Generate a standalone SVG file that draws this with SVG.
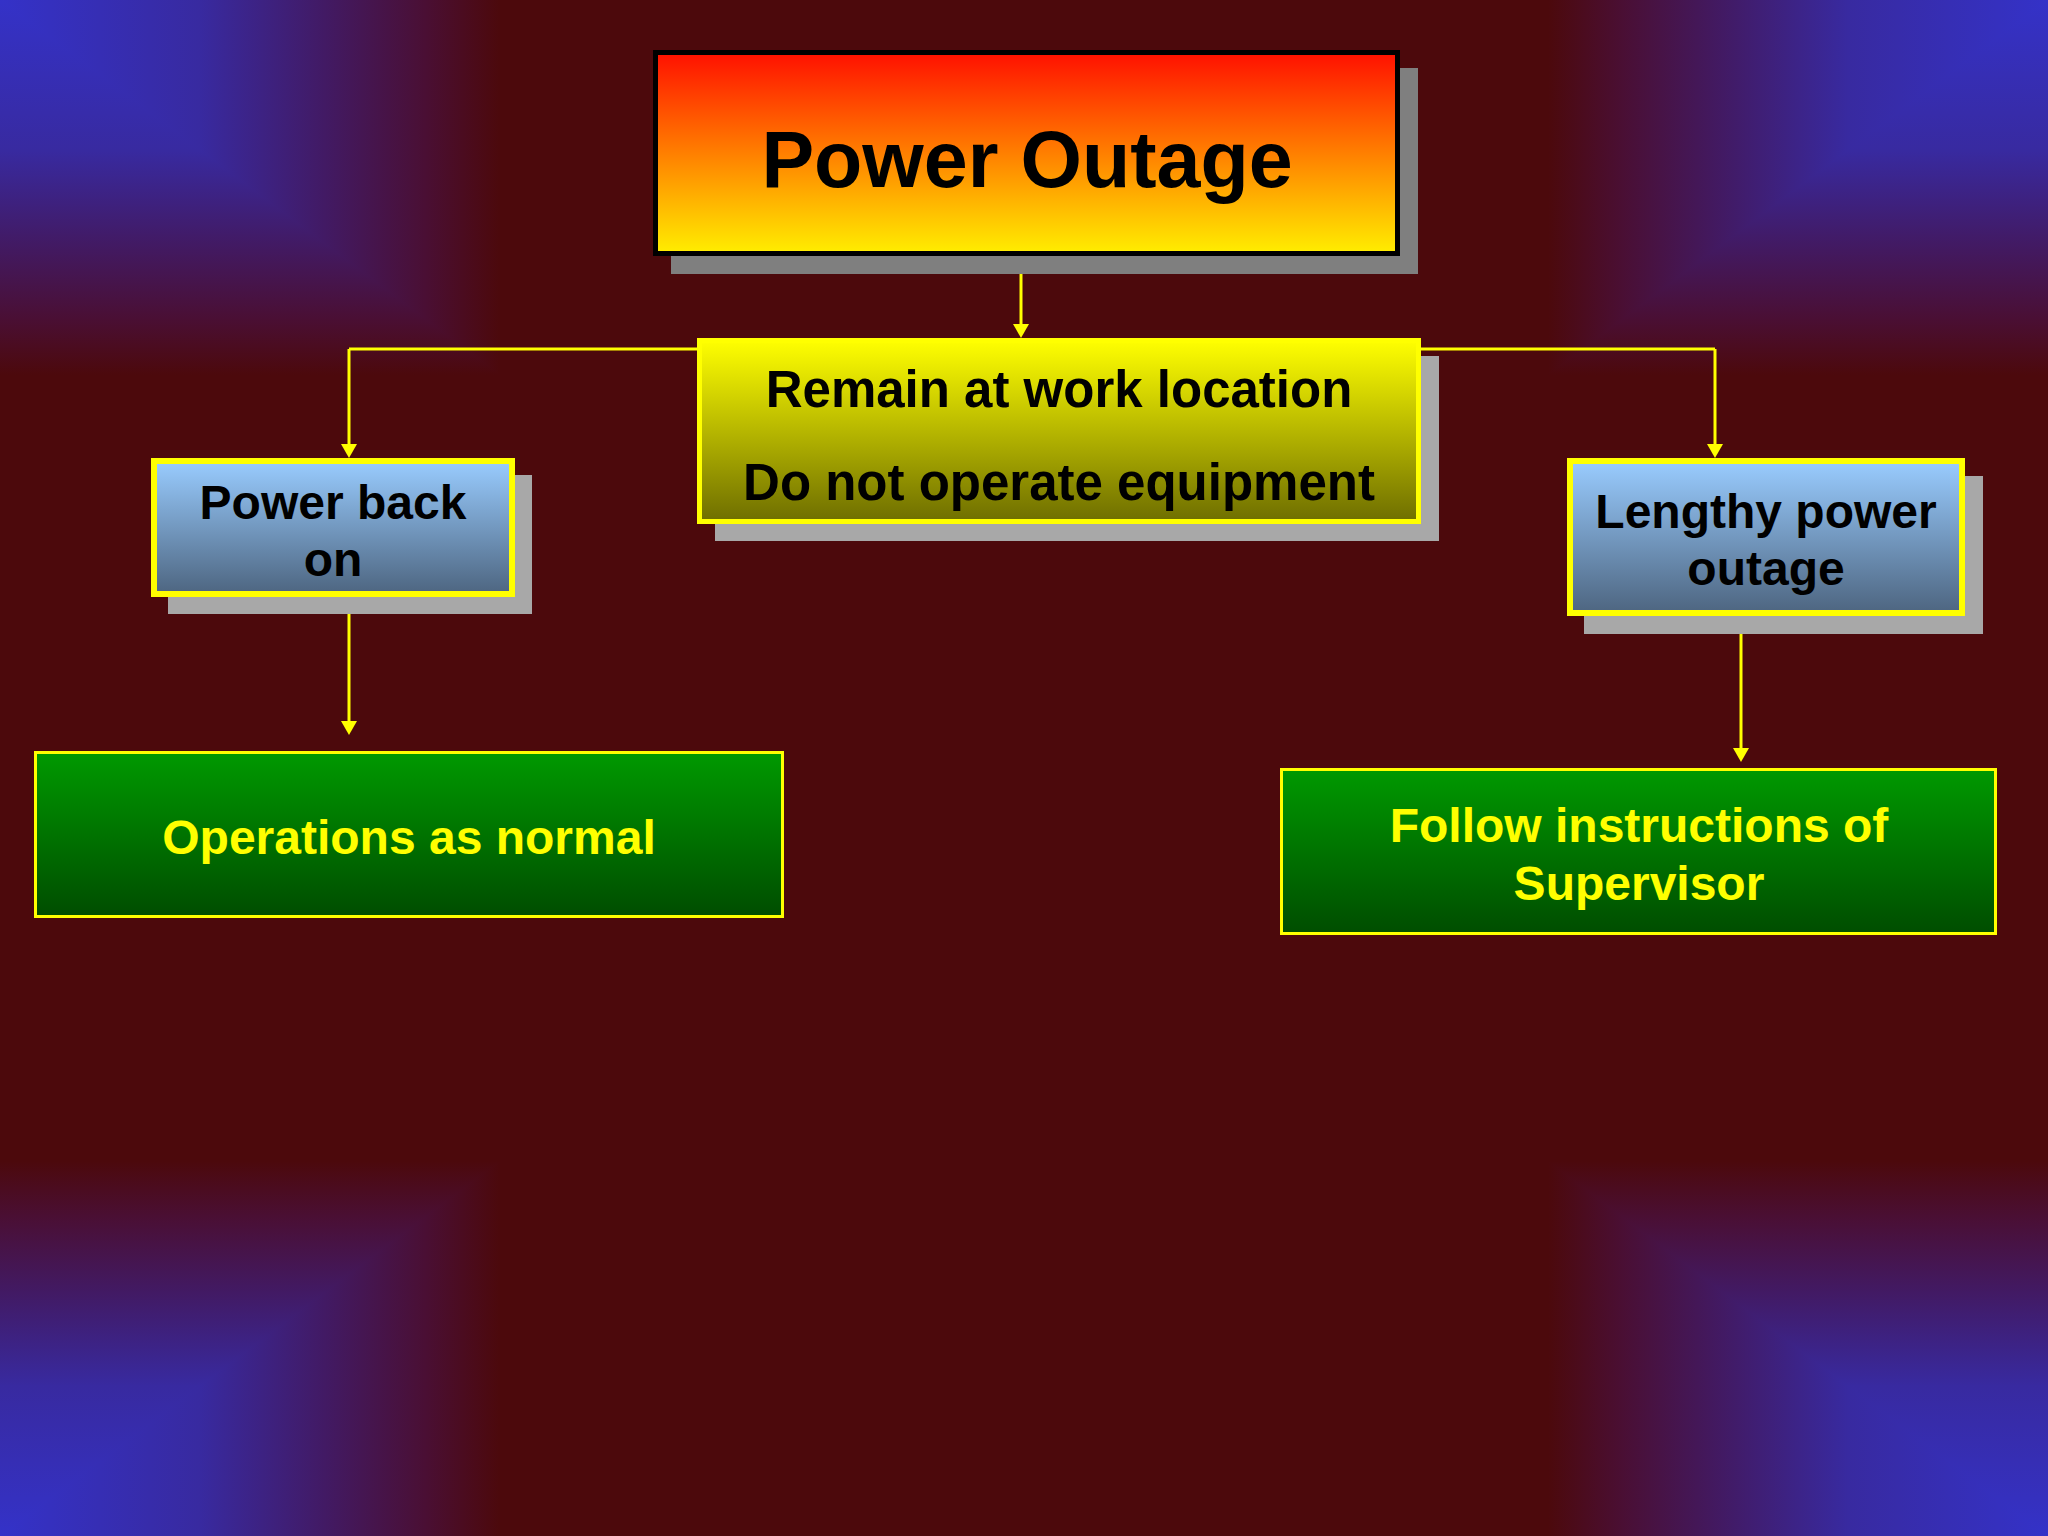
<svg xmlns="http://www.w3.org/2000/svg" xmlns:xlink="http://www.w3.org/1999/xlink" width="2048" height="1536" viewBox="0 0 2048 1536">
<style>
.t{font-family:"Liberation Sans",Arial,sans-serif;font-weight:bold;text-anchor:middle}
.blk{fill:#000}
.yel{fill:#ffff00}
.conn{fill:none;stroke:#ffff00;stroke-width:3}
.shadowDark{fill:#7f7f7f}
.shadowLight{fill:#a8a8a8}
</style>
<defs>
<linearGradient id="gh" x1="0" y1="0" x2="1" y2="0">
<stop offset="0" stop-color="#3432c8"/>
<stop offset="0.4" stop-color="#382aa0"/>
<stop offset="0.65" stop-color="#421a64"/>
<stop offset="0.85" stop-color="#4a0f34"/>
<stop offset="1" stop-color="#4c090c"/>
</linearGradient>
<linearGradient id="gv" x1="0" y1="0" x2="0" y2="1">
<stop offset="0" stop-color="#3432c8"/>
<stop offset="0.4" stop-color="#382aa0"/>
<stop offset="0.65" stop-color="#421a64"/>
<stop offset="0.85" stop-color="#4a0f34"/>
<stop offset="1" stop-color="#4c090c"/>
</linearGradient>
<g id="corner">
<rect x="0" y="0" width="500" height="375" fill="url(#gv)"/>
<polygon points="0,0 500,0 500,375" fill="url(#gh)"/>
</g>
<linearGradient id="gRed" x1="0" y1="0" x2="0" y2="1">
<stop offset="0" stop-color="#ff1000"/>
<stop offset="1" stop-color="#ffee00"/>
</linearGradient>
<linearGradient id="gYel" x1="0" y1="0" x2="0" y2="1">
<stop offset="0" stop-color="#ffff00"/>
<stop offset="1" stop-color="#6e6e00"/>
</linearGradient>
<linearGradient id="gBlue" x1="0" y1="0" x2="0" y2="1">
<stop offset="0" stop-color="#99ccff"/>
<stop offset="1" stop-color="#4d6580"/>
</linearGradient>
<linearGradient id="gGreen" x1="0" y1="0" x2="0" y2="1">
<stop offset="0" stop-color="#009900"/>
<stop offset="1" stop-color="#004d00"/>
</linearGradient>
<marker id="arr" viewBox="0 0 14 16" refX="4" refY="8" markerWidth="14" markerHeight="16" markerUnits="userSpaceOnUse" orient="auto">
<path d="M0,0 L14,8 L0,16 z" fill="#ffff00"/>
</marker>
</defs>

<g id="background">
<rect x="0" y="0" width="2048" height="1536" fill="#4c090c"/>
<use xlink:href="#corner"/>
<use xlink:href="#corner" transform="translate(2048,0) scale(-1,1)"/>
<use xlink:href="#corner" transform="translate(0,1536) scale(1,-1)"/>
<use xlink:href="#corner" transform="translate(2048,1536) scale(-1,-1)"/>
</g>

<g id="connectors">
<path class="conn" d="M1021 256 V328" marker-end="url(#arr)"/>
<path class="conn" d="M349 349 H1715"/>
<path class="conn" d="M349 349 V448" marker-end="url(#arr)"/>
<path class="conn" d="M1715 349 V448" marker-end="url(#arr)"/>
<path class="conn" d="M349 596 V725" marker-end="url(#arr)"/>
<path class="conn" d="M1741 616 V752" marker-end="url(#arr)"/>
</g>

<g id="node-power-outage">
<rect class="shadowDark" x="671" y="68" width="747" height="206"/>
<rect x="655.5" y="52.5" width="742" height="201" fill="url(#gRed)" stroke="#000" stroke-width="5"/>
<text class="t blk" x="1027" y="187" font-size="79">Power Outage</text>
</g>

<g id="node-remain">
<rect class="shadowLight" x="715" y="356" width="724" height="185"/>
<rect x="699.5" y="340.5" width="719" height="181" fill="url(#gYel)" stroke="#ffff00" stroke-width="5"/>
<text class="t blk" x="1059" y="407" font-size="51">Remain at work location</text>
<text class="t blk" x="1059" y="500" font-size="51">Do not operate equipment</text>
</g>

<g id="node-power-back-on">
<rect class="shadowLight" x="168" y="475" width="364" height="139"/>
<rect x="154" y="461" width="358" height="133" fill="url(#gBlue)" stroke="#ffff00" stroke-width="6"/>
<text class="t blk" x="333" y="519" font-size="48">Power back</text>
<text class="t blk" x="333" y="576" font-size="48">on</text>
</g>

<g id="node-lengthy">
<rect class="shadowLight" x="1584" y="476" width="399" height="158"/>
<rect x="1570" y="461" width="392" height="152" fill="url(#gBlue)" stroke="#ffff00" stroke-width="6"/>
<text class="t blk" x="1766" y="528" font-size="48">Lengthy power</text>
<text class="t blk" x="1766" y="585" font-size="48">outage</text>
</g>

<g id="node-operations">
<rect x="35.5" y="752.5" width="747" height="164" fill="url(#gGreen)" stroke="#ffff00" stroke-width="3"/>
<text class="t yel" x="409" y="854" font-size="48">Operations as normal</text>
</g>

<g id="node-follow">
<rect x="1281.5" y="769.5" width="714" height="164" fill="url(#gGreen)" stroke="#ffff00" stroke-width="3"/>
<text class="t yel" x="1639" y="842" font-size="48">Follow instructions of</text>
<text class="t yel" x="1639" y="900" font-size="48">Supervisor</text>
</g>
</svg>
